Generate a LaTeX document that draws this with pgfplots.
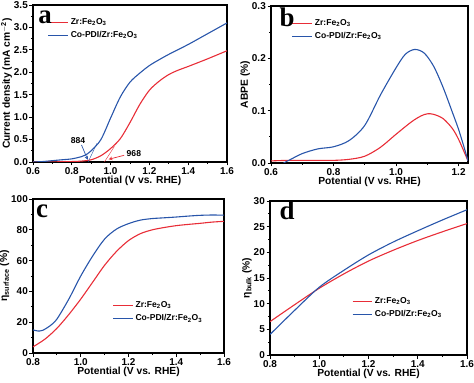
\documentclass[border=0pt]{standalone}
\usepackage{pgfplots}
\pgfplotsset{compat=1.18}
\usepackage{fontspec}
\setmainfont{Liberation Sans}
\newfontfamily\letterfont{Liberation Serif}
\definecolor{cred}{RGB}{232,45,55}
\definecolor{cblue}{RGB}{40,85,170}
\pgfplotsset{
  myax/.style={
    scale only axis,
    axis line style={line width=1.1pt},
    tick style={line width=0.8pt, black},
    tick align=outside,
    xtick pos=left, ytick pos=left,
    major tick length=3.5bp,
    minor tick length=2bp,
    minor x tick num=1, minor y tick num=1,
    /pgf/number format/assume math mode=true,
    tick label style={font=\fontsize{10}{11}\selectfont\bfseries},
    xticklabel style={inner sep=1.5pt},
    yticklabel style={inner sep=1.5pt},
    label style={font=\fontsize{10.3}{12}\selectfont\bfseries},
    xlabel={Potential (V vs. RHE)},
    xlabel style={inner sep=1pt, yshift=1pt},
    ylabel style={yshift=-3pt},
    legend style={draw=none, fill=none, font=\fontsize{8.6}{10}\selectfont\bfseries, row sep=1.5pt},
    legend cell align=left,
    legend image code/.code={\draw[#1] (0cm,0cm) -- (0.7cm,0cm);},
    every axis plot/.append style={line width=1.1pt, smooth, tension=0.5},
  },
  onedec/.style={/pgf/number format/.cd, fixed, fixed zerofill, precision=1},
}
\begin{document}
\begin{tikzpicture}
\useasboundingbox (0bp,0bp) rectangle (474bp,383bp);
% Panel a
\begin{axis}[myax, at={(33bp,221bp)}, anchor=south west, width=194bp, height=157bp,
  xmin=0.6, xmax=1.6, ymin=0, ymax=3.5,
  xtick={0.6,0.8,...,1.6}, ytick={0,0.5,...,3.5},
  xticklabel style={onedec}, yticklabel style={onedec},
  ylabel={Current density (mA cm$^{\mathbf{-2}}$)},
  legend style={at={(0.06,0.94)}, anchor=north west}]
\addplot[cred] coordinates {(0.6,0) (0.7,0.003) (0.8,0.01) (0.85,0.02) (0.9,0.05) (0.95,0.14) (1.0,0.3) (1.05,0.52) (1.1,0.88) (1.15,1.28) (1.2,1.6) (1.25,1.8) (1.3,1.95) (1.35,2.05) (1.4,2.13) (1.5,2.3) (1.6,2.48)};
\addlegendentry{Zr:Fe$_{\mathbf 2}$O$_{\mathbf 3}$}
\addplot[cblue] coordinates {(0.6,0) (0.65,0.01) (0.7,0.03) (0.75,0.05) (0.8,0.07) (0.85,0.12) (0.88,0.18) (0.9,0.25) (0.95,0.5) (1.0,0.98) (1.05,1.45) (1.1,1.78) (1.15,1.98) (1.2,2.15) (1.25,2.28) (1.3,2.4) (1.4,2.62) (1.5,2.86) (1.6,3.1)};
\addlegendentry{Co-PDI/Zr:Fe$_{\mathbf 2}$O$_{\mathbf 3}$}
\addplot[cblue, line width=0.4pt, forget plot] coordinates {(0.884,0) (0.93,0.42)};
\addplot[cred, line width=0.4pt, forget plot] coordinates {(0.968,0) (1.02,0.35)};
\draw[cblue, line width=0.7pt, -stealth] (axis cs:0.85,0.38) -- (axis cs:0.882,0.05);
\draw[cred, line width=0.7pt, -stealth] (axis cs:1.07,0.15) -- (axis cs:0.99,0.06);
\node[font=\fontsize{8.6}{10}\selectfont\bfseries] at (axis cs:0.832,0.47) {884};
\node[font=\fontsize{8.6}{10}\selectfont\bfseries] at (axis cs:1.12,0.19) {968};
\end{axis}
\node[font=\fontsize{27}{27}\selectfont\letterfont\bfseries] at (45bp,366bp) {a};
% Panel b
\begin{axis}[myax, at={(271bp,220bp)}, anchor=south west, width=197bp, height=157bp,
  xmin=0.6, xmax=1.23, ymin=0, ymax=0.3,
  xtick={0.6,0.8,1.0,1.2}, ytick={0,0.1,0.2,0.3},
  xticklabel style={onedec}, yticklabel style={onedec},
  ylabel={ABPE (\%)},
  legend style={at={(0.09,0.94)}, anchor=north west}]
\addplot[cred] coordinates {(0.6,0.004) (0.65,0.005) (0.7,0.005) (0.75,0.005) (0.8,0.005) (0.85,0.007) (0.9,0.013) (0.95,0.03) (1.0,0.055) (1.05,0.079) (1.08,0.09) (1.1,0.094) (1.12,0.093) (1.15,0.085) (1.18,0.066) (1.2,0.045) (1.22,0.018) (1.23,0.004)};
\addlegendentry{Zr:Fe$_{\mathbf 2}$O$_{\mathbf 3}$}
\addplot[cblue] coordinates {(0.64,0) (0.66,0.006) (0.7,0.018) (0.75,0.027) (0.8,0.031) (0.85,0.043) (0.9,0.072) (0.95,0.13) (1.0,0.182) (1.03,0.208) (1.06,0.217) (1.09,0.21) (1.12,0.185) (1.15,0.145) (1.18,0.097) (1.2,0.064) (1.22,0.025) (1.23,0.004)};
\addlegendentry{Co-PDI/Zr:Fe$_{\mathbf 2}$O$_{\mathbf 3}$}
\end{axis}
\node[font=\fontsize{27}{27}\selectfont\letterfont\bfseries] at (287bp,366bp) {b};
% Panel c
\begin{axis}[myax, at={(33bp,30bp)}, anchor=south west, width=191bp, height=154bp,
  xmin=0.8, xmax=1.6, ymin=0, ymax=100,
  xtick={0.8,1.0,...,1.6}, ytick={0,20,...,100},
  xticklabel style={onedec},
  ylabel={η\textsubscript{surface} (\%)},
  legend style={at={(0.4,0.36)}, anchor=north west}]
\addplot[cred] coordinates {(0.8,4) (0.85,9) (0.9,16) (0.95,25) (1.0,35) (1.05,46) (1.1,57) (1.15,66) (1.2,73) (1.25,77.5) (1.3,80) (1.35,81.5) (1.4,82.7) (1.45,83.5) (1.5,84.2) (1.55,85) (1.6,85.5)};
\addlegendentry{Zr:Fe$_{\mathbf 2}$O$_{\mathbf 3}$}
\addplot[cblue] coordinates {(0.8,15) (0.82,14.3) (0.84,14.7) (0.87,17.5) (0.9,22) (0.95,35) (1.0,50) (1.05,63) (1.1,74) (1.15,80.5) (1.2,84) (1.25,86.3) (1.3,87.3) (1.35,87.8) (1.4,88.3) (1.45,88.9) (1.5,89.4) (1.55,89.6) (1.6,89.5)};
\addlegendentry{Co-PDI/Zr:Fe$_{\mathbf 2}$O$_{\mathbf 3}$}
\end{axis}
\node[font=\fontsize{27}{27}\selectfont\letterfont\bfseries] at (42bp,172bp) {c};
% Panel d
\begin{axis}[myax, at={(270bp,28bp)}, anchor=south west, width=197bp, height=154bp,
  xmin=0.8, xmax=1.6, ymin=0, ymax=30,
  xtick={0.8,1.0,...,1.6}, ytick={0,5,...,30},
  xticklabel style={onedec},
  ylabel={η\textsubscript{bulk} (\%)},
  legend style={at={(0.4,0.4)}, anchor=north west}]
\addplot[cred] coordinates {(0.8,6.5) (0.9,9.8) (1.0,13.0) (1.1,15.8) (1.2,18.3) (1.3,20.4) (1.4,22.3) (1.5,24.0) (1.6,25.6)};
\addlegendentry{Zr:Fe$_{\mathbf 2}$O$_{\mathbf 3}$}
\addplot[cblue] coordinates {(0.8,4.0) (0.9,8.7) (1.0,13.2) (1.1,16.5) (1.2,19.5) (1.3,22.0) (1.4,24.2) (1.5,26.3) (1.6,28.3)};
\addlegendentry{Co-PDI/Zr:Fe$_{\mathbf 2}$O$_{\mathbf 3}$}
\end{axis}
\node[font=\fontsize{27}{27}\selectfont\letterfont\bfseries] at (287bp,173bp) {d};
\end{tikzpicture}
\end{document}
